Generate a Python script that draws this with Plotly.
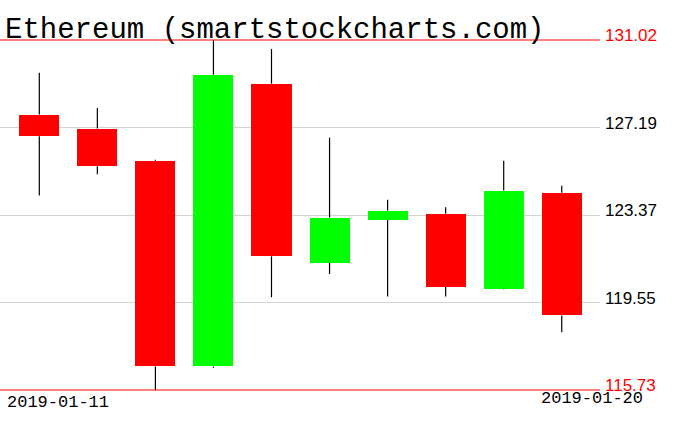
import plotly.graph_objects as go

# ---- data ----
dates = ["2019-01-11", "2019-01-12", "2019-01-13", "2019-01-14", "2019-01-15",
         "2019-01-16", "2019-01-17", "2019-01-18", "2019-01-19", "2019-01-20"]
opens = [127.76, 127.15, 125.75, 116.76, 129.11, 121.30, 123.17, 123.43, 120.15, 124.35]
highs = [129.59, 128.05, 125.79, 131.02, 130.63, 126.75, 124.04, 123.71, 125.75, 124.65]
lows = [124.23, 125.15, 115.73, 116.70, 119.78, 120.80, 119.82, 119.82, 120.13, 118.25]
closes = [126.81, 125.50, 116.76, 129.50, 121.57, 123.26, 123.56, 120.24, 124.44, 118.99]
tick_values = [115.73, 119.55, 123.37, 127.19, 131.02]
tick_labels = ["115.73", "119.55", "123.37", "127.19", "131.02"]
title_text = "Ethereum (smartstockcharts.com)"

UP = "#00ff00"
DOWN = "#ff0000"

fig = go.Figure()

# wicks (upper and lower segments, outside the bodies)
wx, wy = [], []
for d, o, h, l, c in zip(dates, opens, highs, lows, closes):
    top, bot = max(o, c), min(o, c)
    wx += [d, d, None, d, d, None]
    wy += [top, h, None, l, bot, None]
fig.add_trace(go.Scatter(x=wx, y=wy, mode="lines",
                         line=dict(color="black", width=1.2),
                         hoverinfo="skip", showlegend=False))

# bodies
base = [min(o, c) for o, c in zip(opens, closes)]
height = [abs(c - o) for o, c in zip(opens, closes)]
colors = [UP if c >= o else DOWN for o, c in zip(opens, closes)]
fig.add_trace(go.Bar(x=dates, y=height, base=base, width=0.69,
                     marker=dict(color=colors, line=dict(width=0)),
                     hoverinfo="skip", showlegend=False))

ymin, ymax = min(tick_values), max(tick_values)
inner_px = 350.0           # pixel distance between min and max lines
pad = 10.0 * (ymax - ymin) / inner_px

# red bounding lines
for v in (ymin, ymax):
    fig.add_shape(type="line", xref="paper", x0=0, x1=1, yref="y", y0=v, y1=v,
                  line=dict(color="red", width=1), layer="above")

# right labels
for v, lab in zip(tick_values, tick_labels):
    col = "red" if v in (ymin, ymax) else "black"
    fig.add_annotation(xref="paper", x=1, xanchor="left", xshift=3,
                       yref="y", y=v, yanchor="bottom", yshift=-7,
                       text=lab, showarrow=False,
                       font=dict(family="Liberation Sans", size=17, color=col))

# x labels
fig.add_annotation(xref="paper", x=5 / 600, xanchor="left",
                   yref="y", y=ymin, yanchor="top", yshift=-1, text=dates[0],
                   showarrow=False,
                   font=dict(family="Liberation Mono", size=17, color="black"))
fig.add_annotation(xref="paper", x=645 / 600, xanchor="right",
                   yref="y", y=ymin, yanchor="top", yshift=3, text=dates[-1],
                   showarrow=False,
                   font=dict(family="Liberation Mono", size=17, color="black"))

# title
fig.add_annotation(xref="paper", x=0, xanchor="left", xshift=3,
                   yref="y", y=ymax, yanchor="bottom", yshift=-9,
                   text=title_text, showarrow=False,
                   font=dict(family="Liberation Mono", size=29, color="black"))

fig.update_layout(
    width=676, height=431,
    margin=dict(l=0, r=76, t=30, b=31),
    paper_bgcolor="white", plot_bgcolor="white",
    bargap=0, showlegend=False, hovermode=False,
    xaxis=dict(type="category", range=[-0.677, 9.659], showgrid=False,
               showticklabels=False, zeroline=False, showline=False, ticks=""),
    yaxis=dict(range=[ymin - pad, ymax + pad], side="right",
               tickvals=tick_values[1:-1],
               showticklabels=False, showgrid=True, gridcolor="#d3d3d3",
               gridwidth=1, zeroline=False, showline=False, ticks=""),
)

fig.write_html("out.html", config={"displayModeBar": False},
               post_script="document.body.style.margin='0';")
